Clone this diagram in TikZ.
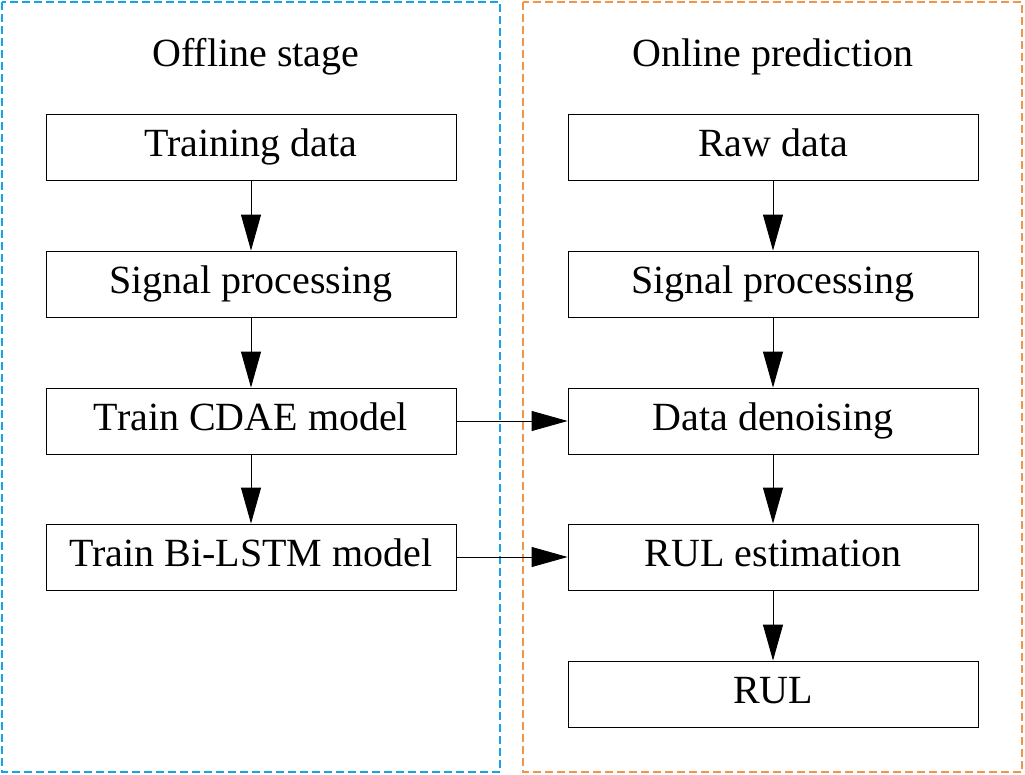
\documentclass[tikz,border=0pt]{standalone}
\usepackage{fontspec}
\setmainfont{Liberation Serif}
\usetikzlibrary{arrows.meta}
\definecolor{cblue}{RGB}{20,165,230}
\definecolor{corange}{RGB}{240,150,75}
\begin{document}
\begin{tikzpicture}[x=1pt,y=-1pt,
  box/.style={draw,line width=0.8pt,minimum width=410pt,minimum height=66pt,inner sep=0pt,text height=26pt,text depth=7pt,font=\fontsize{40}{44}\selectfont},
  ttl/.style={font=\fontsize{40}{44}\selectfont},
  arr/.style={line width=0.9pt,-{Triangle[length=36pt,width=20pt]}}]
\useasboundingbox (0,0) rectangle (1025,775);
\draw[cblue,line width=1.5pt,dash pattern=on 8pt off 4pt] (2,2) rectangle (500,772);
\draw[corange,line width=1.5pt,dash pattern=on 8pt off 4pt] (523,2) rectangle (1022,772);
\node[ttl] (t1) at (256,57) {Offline stage};
\node[ttl] (t2) at (773,57) {Online prediction};
\node[box] (a1) at (251,147) {Training data};
\node[box] (a2) at (251,284) {Signal processing};
\node[box] (a3) at (251,421) {Train CDAE model};
\node[box] (a4) at (251,557) {Train Bi-LSTM model};
\node[box] (b1) at (773,147) {Raw data};
\node[box] (b2) at (773,284) {Signal processing};
\node[box] (b3) at (773,421) {Data denoising};
\node[box] (b4) at (773,557) {RUL estimation};
\node[box] (b5) at (773,694) {RUL};
\draw[arr] (a1) -- (a2);
\draw[arr] (a2) -- (a3);
\draw[arr] (a3) -- (a4);
\draw[arr] (b1) -- (b2);
\draw[arr] (b2) -- (b3);
\draw[arr] (b3) -- (b4);
\draw[arr] (b4) -- (b5);
\draw[arr] (a3) -- (b3);
\draw[arr] (a4) -- (b4);
\end{tikzpicture}
\end{document}
